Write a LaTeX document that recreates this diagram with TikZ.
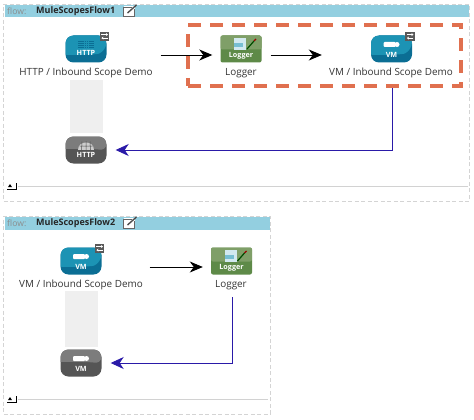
\documentclass[tikz,border=0pt]{standalone}
\usepackage{fontspec}
\setmainfont{Open Sans}
\usepackage{xcolor}
\usetikzlibrary{arrows.meta,positioning}
\definecolor{headbar}{HTML}{93CFE0}
\definecolor{framegray}{HTML}{D4D4D4}
\definecolor{rulegray}{HTML}{D2D2D2}
\definecolor{barfill}{HTML}{EFEFEF}
\definecolor{scopered}{HTML}{E0704F}
\definecolor{replyblue}{HTML}{2A1AA8}
\definecolor{tealdark}{HTML}{0B6E94}
\definecolor{teallight}{HTML}{1C93B4}
\definecolor{graydark}{HTML}{555555}
\definecolor{graylight}{HTML}{7C7C7C}
\definecolor{greendark}{HTML}{5E8A48}
\definecolor{greenlight}{HTML}{7F9F68}
\newcommand{\editmark}[1]{%
  \begin{scope}[shift={#1}]
    \fill[white] (0,0) rectangle (11,10);
    \draw[black!60,line width=0.6pt] (11,3) -- (11,10) -- (0,10) -- (0,1) -- (8,1);
    \draw[black!70,line width=1.4pt] (4,7) -- (13,-1);
  \end{scope}}
\newcommand{\foldmark}[1]{%
  \begin{scope}[shift={#1}]
    \fill[black] (-5,1) -- (-1,1) -- (-3,-2) -- cycle;
    \draw[black,line width=0.8pt] (-6,3.5) -- (3,3.5) -- (3,-3);
  \end{scope}}
\newcommand{\vmglyph}[1]{%
  \begin{scope}[shift={#1}]
    \fill[white,rounded corners=1pt] (-8,-3) rectangle (4,2);
    \fill[white] (5.5,-0.5) circle (2.5);
  \end{scope}}
\newcommand{\logglyph}[1]{%
  \begin{scope}[shift={#1}]
    \fill[white!80!teallight] (-7,-11) rectangle (5,1);
    \fill[teallight!60] (-7,-6) rectangle (2,-2);
    \draw[black!70!green,line width=1.2pt] (6,0) -- (13,-8);
    \draw[red!60!black,line width=1.2pt] (13,-8) -- (15,-10);
  \end{scope}}
\begin{document}
\begin{tikzpicture}[x=1pt,y=-1pt,node distance=1pt,font=\fontsize{9.9}{11}\selectfont]
    \tikzstyle{frame}=[draw=framegray,line width=0.8pt,dash pattern=on 4pt off 2.5pt]
    \tikzstyle{head}=[fill=headbar,inner sep=0pt,anchor=north west]
    \tikzstyle{bar}=[fill=barfill,inner sep=0pt,minimum width=33pt]
    \tikzstyle{tag}=[text=black!45,inner sep=0pt,font=\fontsize{8.6}{10}\selectfont]
    \tikzstyle{flowname}=[text=black!85,inner sep=0pt,font=\fontsize{9}{10}\selectfont\bfseries]
    \tikzstyle{caption}=[text=black!80,inner sep=0pt]
    \tikzstyle{icontext}=[text=white,font=\fontsize{7.2}{8}\selectfont\bfseries,inner sep=0pt]
    \tikzstyle{icon}=[inner sep=0pt,minimum width=41pt,minimum height=27pt,rounded corners=8pt]
    \tikzstyle{tealicon}=[icon,fill=tealdark,path picture={\fill[teallight] (path picture bounding box.north west) -- (path picture bounding box.north east) -- ++(0,15) .. controls +(-12,5) and +(-30,5) .. ++(-41,0) -- cycle;}]
    \tikzstyle{grayicon}=[icon,fill=graydark,path picture={\fill[graylight] (path picture bounding box.north west) -- (path picture bounding box.north east) -- ++(0,15) .. controls +(-12,-3) and +(-30,-3) .. ++(-41,0) -- cycle;}]
    \tikzstyle{greenicon}=[icon,rounded corners=2pt,fill=greendark,path picture={\fill[greenlight] (path picture bounding box.north west) rectangle ([yshift=-14pt]path picture bounding box.north east);}]
    \tikzstyle{badge}=[fill=black!65,inner sep=0pt,minimum size=9.5pt,path picture={\draw[white,line width=0.8pt,-{Stealth[length=2pt,width=3pt]}] ([shift={(1.5pt,-3pt)}]path picture bounding box.north west) -- ++(6.5,0); \draw[white,line width=0.8pt,-{Stealth[length=2pt,width=3pt]}] ([shift={(8pt,-6.5pt)}]path picture bounding box.north west) -- ++(-6.5,0);}]
    \tikzstyle{forward}=[black,line width=0.9pt,-{Stealth[length=13pt,width=11pt,inset=4pt]}]
    \tikzstyle{reply}=[replyblue,line width=0.9pt,-{Stealth[length=13pt,width=12pt,inset=4pt]}]
    % first flow
    \node[frame,minimum width=465.5pt,minimum height=197pt,inner sep=0pt] (frameA) at (236.5,102.5) {};
    \node[head,minimum width=464pt,minimum height=12.5pt] (headA) at (5,4.5) {};
    \node[tag,anchor=west] (tagA) at (7,11) {flow:};
    \node[flowname,anchor=west] (nameA) at (36,11) {MuleScopesFlow1};
    \editmark{(123.5,6)}
    \node[bar,minimum height=53pt] (barA) at (86.5,106.5) {};
    \node[tealicon] (httpin) at (86,49) {};
    \node[icontext] at (86,53) {HTTP};
    \foreach \yy in {41,43,45,47} \draw[tealdark,line width=0.6pt,dash pattern=on 1.5pt off 0.7pt] (78,\yy) -- (94,\yy);
    \node[badge] (badgeA) at ([xshift=-2pt,yshift=-1pt]httpin.north east) {};
    \node[caption] (httplabel) at (86,73) {HTTP / Inbound Scope Demo};
    \node[grayicon] (httpout) at (86,150) {};
    \node[icontext] at (86,154.5) {HTTP};
    \fill[black!20] (78,150) .. controls (78,139.5) and (94,139.5) .. (94,150) -- cycle;
    \draw[graydark,line width=0.5pt] (86,141) -- (86,150) (82,141.5) -- (81.5,150) (90,141.5) -- (90.5,150) (79.5,146) -- (92.5,146);
    \node[greenicon] (loggerA) at (241,49) {};
    \logglyph{(241,49)}
    \node[icontext] at (241,55.5) {Logger};
    \node[caption] (loggerlabelA) at (241,73) {Logger};
    \node[tealicon] (vmin) at (391.5,49) {};
    \node[icontext] at (391.5,55) {VM};
    \vmglyph{(391.5,45)}
    \node[badge] (badgeB) at ([xshift=-2pt,yshift=-1pt]vmin.north east) {};
    \node[caption] (vmlabel) at (391,73) {VM / Inbound Scope Demo};
    \coordinate (vmdrop) at (392,86);
    \coordinate (foldA) at (13,186);
    \coordinate (ruleA) at (468,186);
    \draw[rulegray,line width=0.8pt] (foldA) ++(5,0) -- (ruleA);
    \foldmark{(foldA)}
    \draw[forward] ([yshift=-6pt,xshift=54pt]httpin.east) -- ([yshift=-6pt,xshift=-8pt]loggerA.west);
    \draw[forward] ([yshift=-6pt,xshift=9pt]loggerA.east) -- ([yshift=-6pt,xshift=-49pt]vmin.west);
    \draw[reply] (vmdrop) |- ([xshift=9pt]httpout.east);
    \node[draw=scopered,line width=3.4pt,dash pattern=on 13pt off 9pt,minimum width=273pt,minimum height=61pt,inner sep=0pt] (scope) at (324.5,55.5) {};
    % second flow
    \node[frame,minimum width=266.5pt,minimum height=198pt,inner sep=0pt] (frameB) at (137,315) {};
    \node[head,minimum width=265pt,minimum height=13pt] (headB) at (5,216.5) {};
    \node[tag,anchor=west] (tagB) at (7,223) {flow:};
    \node[flowname,anchor=west] (nameB) at (36,223) {MuleScopesFlow2};
    \editmark{(123.5,218)}
    \node[bar,minimum height=56pt] (barB) at (81.5,319) {};
    \node[tealicon] (vmstart) at (81,261) {};
    \node[icontext] at (81,267) {VM};
    \vmglyph{(81,257)}
    \node[badge] (badgeC) at ([xshift=-2pt,yshift=-1pt]vmstart.north east) {};
    \node[caption] (startlabel) at (81,285) {VM / Inbound Scope Demo};
    \node[grayicon] (vmend) at (81,363) {};
    \node[icontext] at (81,369) {VM};
    \vmglyph{(81,359)}
    \node[greenicon] (loggerB) at (231.5,261) {};
    \logglyph{(231.5,261)}
    \node[icontext] at (231.5,267.5) {Logger};
    \node[caption] (loggerlabelB) at (231,285) {Logger};
    \coordinate (loggerdrop) at (232,297);
    \coordinate (foldB) at (13,399);
    \coordinate (ruleB) at (268,399);
    \draw[rulegray,line width=0.8pt] (foldB) ++(5,0) -- (ruleB);
    \foldmark{(foldB)}
    \draw[forward] ([yshift=-6pt,xshift=48pt]vmstart.east) -- ([yshift=-6pt,xshift=-8pt]loggerB.west);
    \draw[reply] (loggerdrop) |- ([xshift=9pt]vmend.east);
    \useasboundingbox (0,0) rectangle (474,420);
\end{tikzpicture}
\end{document}
